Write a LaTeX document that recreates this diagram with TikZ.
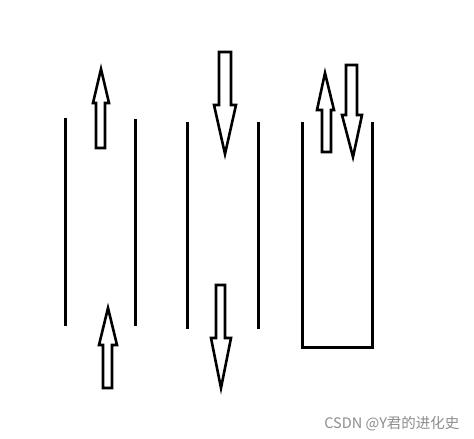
\documentclass[tikz,border=0pt]{standalone}
\usepackage{fontspec}
\newfontfamily\cjk{Noto Sans CJK SC}
\begin{document}
\begin{tikzpicture}[x=1pt,y=-1pt,
    wall/.style={line width=3pt},
    hollow/.style={line width=2.6pt,line join=miter},
    watermark/.style={font=\cjk\fontsize{14.5}{14.5}\selectfont,text=black!45}]
      \useasboundingbox (0,0) rectangle (474,439);
      % tube walls
      \draw[wall] (65,118) -- (65,326);
      \draw[wall] (135,119) -- (135,326);
      \draw[wall] (187,122) -- (187,329);
      \draw[wall] (258,122) -- (258,329);
      \draw[wall] (302,122) -- (302,347) -- (372,347) -- (372,122);
      % first tube, both arrows up
      \draw[hollow] (96,148) -- (96,103) -- (93,103) -- (101,69)
        -- (109,103) -- (105,103) -- (105,148) -- cycle;
      \draw[hollow] (103,388) -- (103,345) -- (99,345) -- (108,308)
        -- (117,345) -- (112,345) -- (112,388) -- cycle;
      % second tube, both arrows down
      \draw[hollow] (219,52) -- (219,105) -- (214,105) -- (225,154)
        -- (236,105) -- (231,105) -- (231,52) -- cycle;
      \draw[hollow] (216,285) -- (216,338) -- (211,338) -- (221,388)
        -- (231,338) -- (225,338) -- (225,285) -- cycle;
      % closed tube, up and down
      \draw[hollow] (322,152) -- (322,110) -- (317,110) -- (325,73)
        -- (334,110) -- (331,110) -- (331,152) -- cycle;
      \draw[hollow] (346,65) -- (346,115) -- (342,115) -- (353,157)
        -- (362,115) -- (357,115) -- (357,65) -- cycle;
      \node[watermark,anchor=east] (csdn) at (463,424) {CSDN @Y君的进化史};
    \end{tikzpicture}
\end{document}
